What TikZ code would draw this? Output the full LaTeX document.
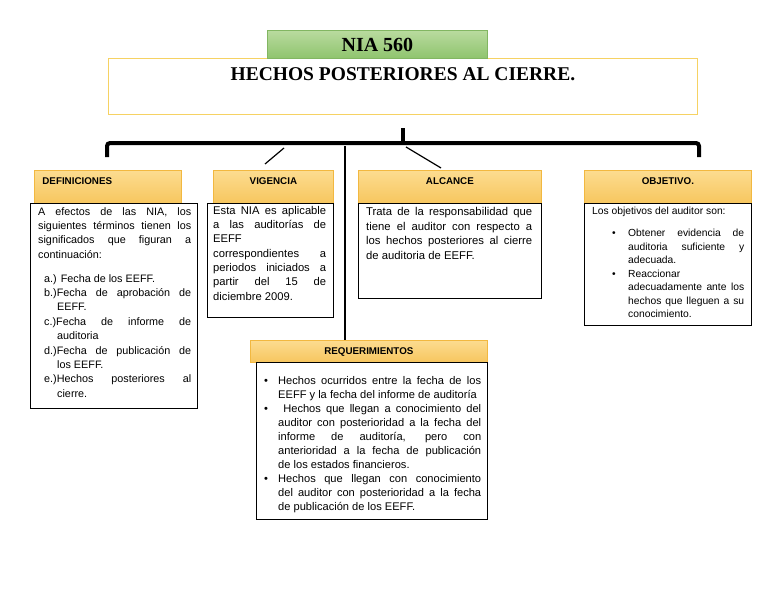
\documentclass[tikz,border=0pt]{standalone}
\usepackage{fontspec}
\setmainfont{Liberation Sans}
\newfontfamily\tnr{Liberation Serif}
\setlength{\parindent}{0pt}
\definecolor{hdrTop}{HTML}{FCDC90}
\definecolor{hdrBot}{HTML}{F7C65E}
\definecolor{hdrLine}{HTML}{F2B840}
\definecolor{grnTop}{HTML}{B9DB9F}
\definecolor{grnBot}{HTML}{8FC46E}
\definecolor{grnLine}{HTML}{82B662}
\definecolor{ttlLine}{HTML}{F6D263}
\newcommand\myitem[1]{\par\hangindent=#1\hangafter=1\noindent\makebox[#1][l]{\textbullet}}
\begin{document}
\begin{tikzpicture}[x=1pt,y=-1pt,
  hdr/.style={draw=hdrLine, top color=hdrTop, bottom color=hdrBot, line width=0.8pt,
    anchor=north west, inner sep=0pt, text height=14pt, text depth=19pt,
    font=\bfseries\fontsize{9.8}{11}\selectfont},
  bodybox/.style={draw=black, line width=0.8pt, fill=white, anchor=north west, inner sep=0pt},
  txt/.style={anchor=north west, inner sep=0pt, align=justify},
  conn/.style={line width=1.2pt}]
\useasboundingbox[fill=white] (0,0) rectangle (768,594);

% title
\node[draw=ttlLine, line width=0.8pt, fill=white, anchor=north west, inner sep=0pt,
  minimum width=589pt, text height=22pt, text depth=34pt,
  font=\tnr\bfseries\fontsize{19.5}{22}\selectfont] (ttl) at (108,58) {HECHOS POSTERIORES AL CIERRE.};
\node[draw=grnLine, line width=0.8pt, top color=grnTop, bottom color=grnBot, anchor=north west,
  inner sep=0pt, minimum width=220pt, text height=21.6pt, text depth=6.4pt,
  font=\tnr\bfseries\fontsize{20}{22}\selectfont] (nia) at (267,30) {NIA 560};

% brace
\draw[line width=4pt, rounded corners=3pt] (107,157) -- (107,143) -- (699,143) -- (699,157);
\coordinate (tipb) at (403,143);
\coordinate (tipt) at (403,128);
\draw[line width=4.5pt] (tipb) -- (tipt);
\coordinate (b1) at (284,148);
\coordinate (b2) at (345,146);
\coordinate (b3) at (406,147);

% headers
\node[hdr, minimum width=147pt, text width=131pt, align=left, inner xsep=8pt] (hdef) at (34,170) {DEFINICIONES};
\node[hdr, minimum width=120pt] (hvig) at (213,170) {VIGENCIA};
\node[hdr, minimum width=183pt] (halc) at (358,170) {ALCANCE};
\node[hdr, minimum width=167pt] (hobj) at (584,170) {OBJETIVO.};
\node[hdr, minimum width=237pt, text depth=8pt] (hreq) at (250,340) {REQUERIMIENTOS};

% bodies
\node[bodybox, minimum width=167pt, minimum height=205pt] (bdef) at (30,203) {};
\node[bodybox, minimum width=126pt, minimum height=114pt] (bvig) at (207,203) {};
\node[bodybox, minimum width=183pt, minimum height=95pt] (balc) at (358,203) {};
\node[bodybox, minimum width=167pt, minimum height=122pt] (bobj) at (584,203) {};
\node[bodybox, minimum width=231pt, minimum height=157pt] (breq) at (256,362) {};

% connectors
\coordinate (e1) at (265,164);
\coordinate (e3) at (441,168);
\draw[conn] (b1) -- (e1);
\draw[line width=1.8pt] (b2) -- (b2 |- hreq.north);
\draw[conn] (b3) -- (e3);

% texts
\node[txt, text width=153pt, font=\fontsize{10.8}{14.4}\selectfont] (tdef) at (38,207) {%
A efectos de las NIA, los\linebreak siguientes términos tienen los\linebreak significados que figuran a\linebreak continuación:\par
\vspace{9.5pt}
{\leftskip=6pt
\hangindent=13pt\hangafter=1 a.) Fecha de los EEFF.\par
\hangindent=13pt\hangafter=1 b.)Fecha de aprobación de\linebreak EEFF.\par
\hangindent=13pt\hangafter=1 c.)Fecha de informe de\linebreak auditoria\par
\hangindent=13pt\hangafter=1 d.)Fecha de publicación de\linebreak los EEFF.\par
\hangindent=13pt\hangafter=1 e.)Hechos posteriores al\linebreak cierre.\par}};

\node[txt, text width=113pt, font=\fontsize{11.2}{14.3}\selectfont] (tvig) at (213,206) {%
Esta NIA es aplicable\linebreak a las auditorías de\linebreak EEFF\par
correspondientes a\linebreak periodos iniciados a\linebreak partir del 15 de\linebreak diciembre 2009.};

\node[txt, text width=166pt, font=\fontsize{11.3}{14.7}\selectfont] (talc) at (366,207) {%
Trata de la responsabilidad que\linebreak tiene el auditor con respecto a\linebreak los hechos posteriores al cierre\linebreak de auditoria de EEFF.};

\node[txt, text width=152pt, font=\fontsize{10.3}{13.5}\selectfont] (tobj) at (592,207) {%
Los objetivos del auditor son:\par
\vspace{8.5pt}
{\leftskip=20pt
\myitem{16pt}Obtener evidencia de\linebreak auditoria suficiente y\linebreak adecuada.\par
\myitem{16pt}Reaccionar\newline adecuadamente ante los\linebreak hechos que lleguen a su\linebreak conocimiento.\par}};

\node[txt, text width=217pt, font=\fontsize{11.1}{14}\selectfont] (treq) at (264,370) {%
\myitem{14pt}Hechos ocurridos entre la fecha de los\linebreak EEFF y la fecha del informe de auditoría\par
\myitem{14pt}\ Hechos que llegan a conocimiento del\linebreak auditor con posterioridad a la fecha del\linebreak informe de auditoría, pero con\linebreak anterioridad a la fecha de publicación\linebreak de los estados financieros.\par
\myitem{14pt}Hechos que llegan con conocimiento\linebreak del auditor con posterioridad a la fecha\linebreak de publicación de los EEFF.\par};
\end{tikzpicture}
\end{document}
